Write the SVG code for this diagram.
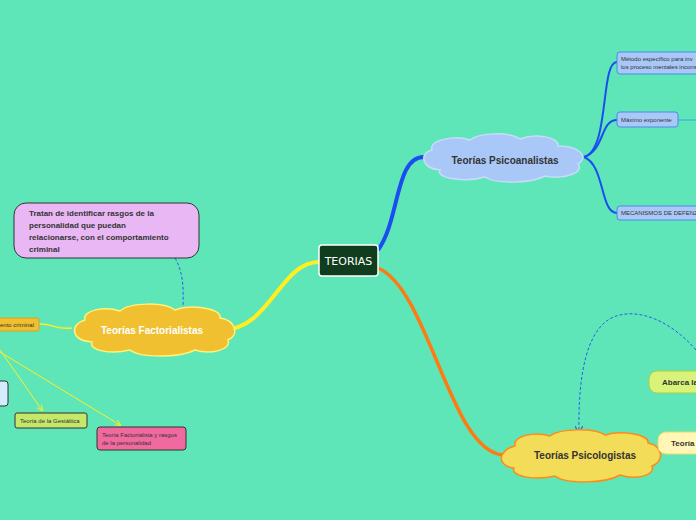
<svg xmlns="http://www.w3.org/2000/svg" width="696" height="520" viewBox="0 0 696 520">
<style>
text{font-family:"Liberation Sans",Arial,sans-serif}
.s{font-size:6px;fill:#333}
.c{font-size:10px;font-weight:bold}
</style>
<defs>
<marker id="ay" markerWidth="6" markerHeight="6" refX="5" refY="3" orient="auto"><path d="M0,0L6,3L0,6" fill="none" stroke="#ffee22" stroke-width="1"/></marker>
<marker id="ab" markerWidth="8" markerHeight="8" refX="6" refY="4" orient="auto" markerUnits="userSpaceOnUse"><path d="M0,0L7,4L0,8" fill="none" stroke="#2a5ee8" stroke-width="1.2"/></marker>
</defs>
<rect width="696" height="520" fill="#5ee6b8"/>
<g id="connectors" fill="none">
<path d="M378,250 C400,220 395,155 425,157" stroke="#1b4ef0" stroke-width="4"/>
<path d="M378,268 C430,290 450,455 505,455" stroke="#ff7a10" stroke-width="3.5"/>
<path d="M319,262 C280,262 270,330 222,330" stroke="#ffee22" stroke-width="4"/>
<path d="M584,157 C610,150 600,62 617,62" stroke="#1b4ef0" stroke-width="2"/>
<path d="M584,157 C605,150 600,120 617,120" stroke="#1b4ef0" stroke-width="2"/>
<path d="M584,157 C605,165 600,213 617,213" stroke="#1b4ef0" stroke-width="2"/>
<path d="M678,120 H696" stroke="#4ab6d8" stroke-width="1.5"/>
<path d="M175,258 C185,275 183,295 183,310" stroke="#2a5ee8" stroke-width="1" stroke-dasharray="3,2"/>
<path d="M39,324 C55,324 55,330 72,328" stroke="#ffee22" stroke-width="1.5"/>
<path d="M0,350 L42,410" stroke="#ffee22" stroke-width="1" marker-end="url(#ay)"/>
<path d="M0,352 L120,425" stroke="#ffee22" stroke-width="1" marker-end="url(#ay)"/>
<path d="M696,350 C670,320 640,310 620,315 C585,322 578,380 579,432" stroke="#2a5ee8" stroke-width="1" stroke-dasharray="3,2" marker-end="url(#ab)"/>
</g>
<g id="center">
<rect x="319" y="245" width="59" height="31" rx="3" fill="#0f3d1e" stroke="#fff" stroke-width="1.5"/>
<text x="348.5" y="265" text-anchor="middle" font-size="11" fill="#fff" style="font-family:'DejaVu Sans',sans-serif">TEORIAS</text>
</g>
<g id="psicoanalistas">
<path d="M432,150 C428,140 455,135 470,140 C480,132 510,132 520,139 C535,133 560,137 558,146 C578,146 590,156 578,164 C585,172 565,180 545,176 C530,184 495,184 485,177 C465,183 435,178 440,170 C420,168 420,152 432,150Z" fill="#a9c8f7" stroke="#c8dcfa" stroke-width="1.5"/>
<text x="505" y="164" text-anchor="middle" class="c" fill="#333">Teorías Psicoanalistas</text>
</g>
<g id="factorialistas">
<path d="M85,320 C82,310 105,306 120,311 C130,302 165,302 175,310 C190,304 222,308 220,318 C235,320 240,335 228,340 C232,350 210,355 195,350 C180,358 140,358 130,350 C110,355 88,350 92,342 C70,340 70,324 85,320Z" fill="#f0c030" stroke="#fff27a" stroke-width="1.5"/>
<text x="152" y="334" text-anchor="middle" class="c" fill="#fff">Teorías Factorialistas</text>
</g>
<g id="psicologistas">
<path d="M515,446 C512,436 535,431 550,436 C560,428 595,428 605,435 C620,430 650,434 648,443 C664,446 664,462 652,466 C656,476 635,480 620,475 C605,484 565,484 555,476 C535,481 510,476 514,468 C496,466 498,450 515,446Z" fill="#f3dc58" stroke="#ff8a1a" stroke-width="1.5"/>
<text x="585" y="459" text-anchor="middle" class="c" fill="#333">Teorías Psicologistas</text>
</g>
<g id="metodo"><rect x="617" y="52" width="85" height="22" rx="3" fill="#a9c8f7" stroke="#4a8be8"/><text x="621" y="61" class="s">Método específico para inv</text><text x="621" y="69" class="s">los proceso mentales incons</text></g>
<g id="maximo"><rect x="617" y="112" width="61" height="15" rx="3" fill="#a9c8f7" stroke="#4a8be8"/><text x="621" y="122" class="s">Máximo exponente</text></g>
<g id="mecanismos"><rect x="617" y="206" width="85" height="14" rx="3" fill="#a9c8f7" stroke="#4a8be8"/><text x="621" y="215" class="s">MECANISMOS DE DEFENZA</text></g>
<g id="tratan"><rect x="14" y="203" width="185" height="55" rx="12" fill="#e9b8f4" stroke="#333" stroke-width="1"/><text font-size="8" font-weight="bold" fill="#333"><tspan x="29" y="216">Tratan de identificar rasgos de la</tspan><tspan x="29" y="228">personalidad que puedan</tspan><tspan x="29" y="240">relacionarse, con el comportamiento</tspan><tspan x="29" y="252">criminal</tspan></text></g>
<g id="criminal"><rect x="-5" y="318" width="44" height="13" rx="2" fill="#f0c030" stroke="#e0a020"/><text x="0" y="327" class="s">ento criminal</text></g>
<g id="azul"><rect x="-5" y="381" width="13" height="25" rx="3" fill="#d4ecfc" stroke="#333"/></g>
<g id="gestaltica"><rect x="15" y="413" width="72" height="15" rx="2" fill="#c5e86a" stroke="#333"/><text x="20" y="423" class="s">Teoría de la Gestáltica</text></g>
<g id="factorialista"><rect x="97" y="427" width="89" height="23" rx="3" fill="#f06aa0" stroke="#333"/><text class="s"><tspan x="102" y="437">Teoría Factorialista y rasgos</tspan><tspan x="102" y="445">de la personalidad</tspan></text></g>
<g id="abarca"><rect x="649" y="371" width="60" height="22" rx="8" fill="#d8f27a" stroke="#a8d040"/><text x="662" y="385" font-size="8" font-weight="bold" fill="#333">Abarca la</text></g>
<g id="teoria"><rect x="658" y="432" width="50" height="22" rx="8" fill="#fff6b8" stroke="#f0d860"/><text x="671" y="446" font-size="8" font-weight="bold" fill="#333">Teoría</text></g>
</svg>
